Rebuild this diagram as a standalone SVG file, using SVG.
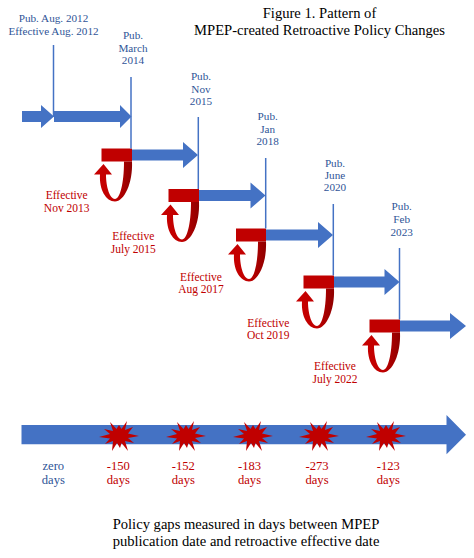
<svg xmlns="http://www.w3.org/2000/svg" xmlns:xlink="http://www.w3.org/1999/xlink" width="474" height="558" viewBox="0 0 474 558">
<style>
text{font-family:"Liberation Serif","Times New Roman",serif;text-anchor:middle}
.title{font-size:14.6px;fill:#000}
.pub{font-size:11.2px;fill:#2f5597}
.eff{font-size:11.5px;fill:#c00000}
.big{font-size:12.6px}
.bl{fill:#2f5597}
.rd{fill:#c00000}
.arr{fill:#4472c4}
.rect{fill:#c00000}
.vl{stroke:#4472c4;stroke-width:1.5;fill:none}
.burst{fill:#c00000}
</style>
<defs>
<linearGradient id="ug" x1="0" y1="0" x2="1" y2="0">
<stop offset="0" stop-color="#c80000"/>
<stop offset="0.55" stop-color="#c00000"/>
<stop offset="1" stop-color="#8e0000"/>
</linearGradient>
<path id="uturn" fill="url(#ug)" d="M0,0 C1,22 -8,40 -17,40 C-26,40 -33,28 -32,13 L-38,13 L-28.5,2.5 L-20,13 L-26,13 C-26,26 -22,37.5 -17,37.5 C-12,37.5 -8,22 -8,0 Z"/>
<polygon id="burst" class="burst" points="20,0 9,-2.5 14,-9 6,-6 8,-15 2.5,-7 0,-11 -2.5,-7 -9,-14 -6,-5 -15,-7 -9,-2 -20,1 -9,2.5 -14,8 -6,5 -7,15 -2,7 1,12 2.5,7 9,15 6,5 15,7 9,2"/>
</defs>
<rect width="474" height="558" fill="#fff"/>

<g id="title">
<text class="title" x="319.5" y="17.5">Figure 1. Pattern of</text>
<text class="title" x="319.5" y="34.5">MPEP-created Retroactive Policy Changes</text>
</g>

<g id="row0">
<polygon class="arr" points="22,111 41,111 41,105 54,116.5 41,128 41,122 22,122"/>
<polygon class="arr" points="54,111 120,111 120,105 131.5,116.5 120,128 120,122 54,122"/>
</g>

<g id="row1">
<rect class="rect" x="101.5" y="148.5" width="30.5" height="13"/>
<polygon class="arr" points="132,149.5 183,149.5 183,142 198,155 183,168 183,160.5 132,160.5"/>
<use xlink:href="#uturn" x="132" y="161.5"/>
</g>
<g id="row2">
<rect class="rect" x="168.5" y="189" width="30.5" height="13"/>
<polygon class="arr" points="199,190 250.5,190 250.5,182.5 265.5,195.5 250.5,208.5 250.5,201 199,201"/>
<use xlink:href="#uturn" x="199" y="202"/>
</g>
<g id="row3">
<rect class="rect" x="236" y="228.5" width="30" height="13"/>
<polygon class="arr" points="266,229.5 318,229.5 318,222 333,235 318,248 318,240.5 266,240.5"/>
<use xlink:href="#uturn" x="266" y="241.5"/>
</g>
<g id="row4">
<rect class="rect" x="303.5" y="275.5" width="30.5" height="13"/>
<polygon class="arr" points="334,276.5 384.5,276.5 384.5,269 399.5,282 384.5,295 384.5,287.5 334,287.5"/>
<use xlink:href="#uturn" x="334" y="288.5"/>
</g>
<g id="row5">
<rect class="rect" x="369.5" y="319.5" width="30.5" height="13"/>
<polygon class="arr" points="400,320.5 450,320.5 450,313 466,326 450,339 450,331.5 400,331.5"/>
<use xlink:href="#uturn" x="400" y="332.5"/>
</g>

<g id="connectors">
<line class="vl" x1="53.5" y1="45" x2="53.5" y2="117"/>
<line class="vl" x1="131" y1="77" x2="131" y2="148.5"/>
<line class="vl" x1="198.3" y1="117" x2="198.3" y2="189"/>
<line class="vl" x1="265.7" y1="158" x2="265.7" y2="228.5"/>
<line class="vl" x1="333.3" y1="204" x2="333.3" y2="275.5"/>
<line class="vl" x1="399.5" y1="248" x2="399.5" y2="319.5"/>
</g>

<g id="pub-labels">
<text class="pub" x="53.5" y="22">Pub. Aug. 2012</text>
<text class="pub" x="53.5" y="35">Effective Aug. 2012</text>
<text class="pub" x="133" y="39">Pub.</text>
<text class="pub" x="133" y="51.5">March</text>
<text class="pub" x="133" y="64">2014</text>
<text class="pub" x="201" y="80">Pub.</text>
<text class="pub" x="201" y="92.5">Nov</text>
<text class="pub" x="201" y="105">2015</text>
<text class="pub" x="267.7" y="120">Pub.</text>
<text class="pub" x="267.7" y="132.5">Jan</text>
<text class="pub" x="267.7" y="145">2018</text>
<text class="pub" x="335" y="166.5">Pub.</text>
<text class="pub" x="335" y="179">June</text>
<text class="pub" x="335" y="191">2020</text>
<text class="pub" x="401.7" y="210">Pub.</text>
<text class="pub" x="401.7" y="222.7">Feb</text>
<text class="pub" x="401.7" y="235.5">2023</text>
</g>

<g id="eff-labels">
<text class="eff" x="66.7" y="199">Effective</text>
<text class="eff" x="66.7" y="212">Nov 2013</text>
<text class="eff" x="133.3" y="240">Effective</text>
<text class="eff" x="133.3" y="252.5">July 2015</text>
<text class="eff" x="201" y="280.5">Effective</text>
<text class="eff" x="201" y="293">Aug 2017</text>
<text class="eff" x="268.3" y="326.5">Effective</text>
<text class="eff" x="268.3" y="339">Oct 2019</text>
<text class="eff" x="335" y="370">Effective</text>
<text class="eff" x="335" y="383">July 2022</text>
</g>

<g id="timeline">
<polygon class="arr" points="21.5,425 446.5,425 446.5,415 466,434.7 446.5,454.3 446.5,444.3 21.5,444.3"/>
<use xlink:href="#burst" x="119" y="436"/>
<use xlink:href="#burst" x="186" y="436"/>
<use xlink:href="#burst" x="253" y="436"/>
<use xlink:href="#burst" x="319" y="436"/>
<use xlink:href="#burst" x="386" y="436"/>
</g>

<g id="gap-labels">
<text class="big bl" x="53.3" y="470">zero</text>
<text class="big bl" x="53.3" y="484">days</text>
<text class="big rd" x="118.3" y="470">-150</text>
<text class="big rd" x="118.3" y="484">days</text>
<text class="big rd" x="183.3" y="470">-152</text>
<text class="big rd" x="183.3" y="484">days</text>
<text class="big rd" x="249.5" y="470">-183</text>
<text class="big rd" x="249.5" y="484">days</text>
<text class="big rd" x="317" y="470">-273</text>
<text class="big rd" x="317" y="484">days</text>
<text class="big rd" x="388.3" y="470">-123</text>
<text class="big rd" x="388.3" y="484">days</text>
</g>

<g id="caption">
<text class="title" x="246" y="529">Policy gaps measured in days between MPEP</text>
<text class="title" x="246" y="546">publication date and retroactive effective date</text>
</g>
</svg>
